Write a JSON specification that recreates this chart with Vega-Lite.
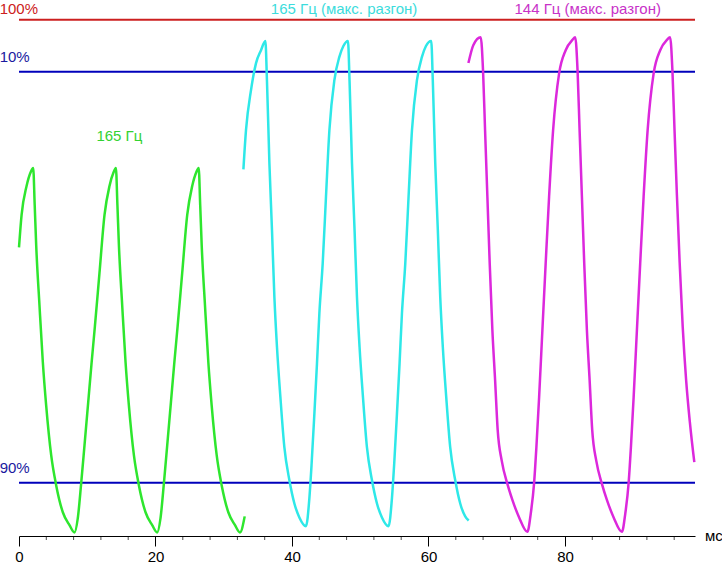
{
  "$schema": "https://vega.github.io/schema/vega-lite/v6.json",
  "width": 676,
  "height": 536,
  "autosize": {"type": "none"},
  "padding": {"left": 19, "top": 0, "right": 27, "bottom": 27},
  "background": "white",
  "config": {"view": {"stroke": null}, "font": "Liberation Sans"},
  "datasets": {
    "levels": [
      {"name": "100%", "v": 100},
      {"name": "10%", "v": 89.9},
      {"name": "90%", "v": 10.3}
    ],
    "minor": [
      {"t": 4}, {"t": 8}, {"t": 12}, {"t": 16}, {"t": 24}, {"t": 28}, {"t": 32}, {"t": 36},
      {"t": 44}, {"t": 48}, {"t": 52}, {"t": 56}, {"t": 64}, {"t": 68}, {"t": 72}, {"t": 76},
      {"t": 84}, {"t": 88}, {"t": 92}, {"t": 96}
    ],
    "toplabels": [
      {"name": "165 Гц (макс. разгон)", "t": 36.9, "v": 103.45},
      {"name": "144 Гц (макс. разгон)", "t": 72.6, "v": 103.45},
      {"name": "100%", "t": -2.83, "v": 103.45}
    ],
    "labels": [
      {"name": "165 Гц", "t": 11.34, "v": 77.5},
      {"name": "10%", "t": -2.83, "v": 92.8},
      {"name": "90%", "t": -2.83, "v": 13.2},
      {"name": "мс", "t": 100.5, "v": 0}
    ],
    "traces": [
      {"s": "165 Гц", "t": 0, "v": 55.9}, {"s": "165 Гц", "t": 0.38, "v": 62.2}, {"s": "165 Гц", "t": 1.11, "v": 67.8}, {"s": "165 Гц", "t": 1.72, "v": 70.5}, {"s": "165 Гц", "t": 2.08, "v": 71.3},
      {"s": "165 Гц", "t": 2.30, "v": 64.1}, {"s": "165 Гц", "t": 2.52, "v": 56.3}, {"s": "165 Гц", "t": 3.00, "v": 44.7}, {"s": "165 Гц", "t": 3.49, "v": 33.7}, {"s": "165 Гц", "t": 3.98, "v": 25.3}, {"s": "165 Гц", "t": 4.72, "v": 15.6}, {"s": "165 Гц", "t": 5.45, "v": 9.8}, {"s": "165 Гц", "t": 6.42, "v": 4.6}, {"s": "165 Гц", "t": 7.40, "v": 2.1}, {"s": "165 Гц", "t": 8.13, "v": 0.7},
      {"s": "165 Гц", "t": 8.61, "v": 3.4}, {"s": "165 Гц", "t": 9.11, "v": 10.2}, {"s": "165 Гц", "t": 9.60, "v": 17.6}, {"s": "165 Гц", "t": 10.14, "v": 25.9}, {"s": "165 Гц", "t": 10.62, "v": 33.3}, {"s": "165 Гц", "t": 11.12, "v": 40.6}, {"s": "165 Гц", "t": 11.79, "v": 50.9}, {"s": "165 Гц", "t": 12.53, "v": 62.2}, {"s": "165 Гц", "t": 13.26, "v": 67.8}, {"s": "165 Гц", "t": 13.87, "v": 70.5}, {"s": "165 Гц", "t": 14.2, "v": 71.3},
      {"s": "165 Гц", "t": 14.42, "v": 64.1}, {"s": "165 Гц", "t": 14.64, "v": 56.3}, {"s": "165 Гц", "t": 15.12, "v": 44.7}, {"s": "165 Гц", "t": 15.61, "v": 33.7}, {"s": "165 Гц", "t": 16.10, "v": 25.3}, {"s": "165 Гц", "t": 16.84, "v": 15.6}, {"s": "165 Гц", "t": 17.57, "v": 9.8}, {"s": "165 Гц", "t": 18.54, "v": 4.6}, {"s": "165 Гц", "t": 19.52, "v": 2.1}, {"s": "165 Гц", "t": 20.25, "v": 0.7},
      {"s": "165 Гц", "t": 20.73, "v": 3.4}, {"s": "165 Гц", "t": 21.23, "v": 10.2}, {"s": "165 Гц", "t": 21.72, "v": 17.6}, {"s": "165 Гц", "t": 22.26, "v": 25.9}, {"s": "165 Гц", "t": 22.74, "v": 33.3}, {"s": "165 Гц", "t": 23.24, "v": 40.6}, {"s": "165 Гц", "t": 23.91, "v": 50.9}, {"s": "165 Гц", "t": 24.65, "v": 62.2}, {"s": "165 Гц", "t": 25.38, "v": 67.8}, {"s": "165 Гц", "t": 25.99, "v": 70.5}, {"s": "165 Гц", "t": 26.33, "v": 71.3},
      {"s": "165 Гц", "t": 26.55, "v": 64.1}, {"s": "165 Гц", "t": 26.77, "v": 56.3}, {"s": "165 Гц", "t": 27.25, "v": 44.7}, {"s": "165 Гц", "t": 27.74, "v": 33.7}, {"s": "165 Гц", "t": 28.23, "v": 25.3}, {"s": "165 Гц", "t": 28.97, "v": 15.6}, {"s": "165 Гц", "t": 29.70, "v": 9.8}, {"s": "165 Гц", "t": 30.67, "v": 4.6}, {"s": "165 Гц", "t": 31.65, "v": 2.1}, {"s": "165 Гц", "t": 32.38, "v": 0.7}, {"s": "165 Гц", "t": 33.07, "v": 3.8},

      {"s": "165 Гц (макс. разгон)", "t": 32.88, "v": 71.0}, {"s": "165 Гц (макс. разгон)", "t": 33.26, "v": 78.6}, {"s": "165 Гц (макс. разгон)", "t": 34.0, "v": 86.4}, {"s": "165 Гц (макс. разгон)", "t": 34.73, "v": 91.6}, {"s": "165 Гц (макс. разгон)", "t": 35.46, "v": 94.1}, {"s": "165 Гц (макс. разгон)", "t": 36.10, "v": 95.9},
      {"s": "165 Гц (макс. разгон)", "t": 36.33, "v": 88.3}, {"s": "165 Гц (макс. разгон)", "t": 36.69, "v": 72.2}, {"s": "165 Гц (макс. разгон)", "t": 37.07, "v": 59.2}, {"s": "165 Гц (макс. разгон)", "t": 37.42, "v": 46.3}, {"s": "165 Гц (макс. разгон)", "t": 37.80, "v": 36.6}, {"s": "165 Гц (макс. разгон)", "t": 38.30, "v": 26.9}, {"s": "165 Гц (макс. разгон)", "t": 38.88, "v": 17.2}, {"s": "165 Гц (макс. разгон)", "t": 39.62, "v": 10.8}, {"s": "165 Гц (макс. разгон)", "t": 40.35, "v": 6.3}, {"s": "165 Гц (макс. разгон)", "t": 41.08, "v": 3.6}, {"s": "165 Гц (макс. разгон)", "t": 42.05, "v": 1.9},
      {"s": "165 Гц (макс. разгон)", "t": 42.55, "v": 7.4}, {"s": "165 Гц (макс. разгон)", "t": 42.88, "v": 14.1}, {"s": "165 Гц (макс. разгон)", "t": 43.28, "v": 23.7}, {"s": "165 Гц (макс. разгон)", "t": 43.66, "v": 33.4}, {"s": "165 Гц (макс. разгон)", "t": 44.01, "v": 43.1}, {"s": "165 Гц (макс. разгон)", "t": 44.50, "v": 52.8}, {"s": "165 Гц (макс. разгон)", "t": 44.98, "v": 65.7}, {"s": "165 Гц (макс. разгон)", "t": 45.48, "v": 78.6}, {"s": "165 Гц (макс. разгон)", "t": 46.21, "v": 88.3}, {"s": "165 Гц (макс. разгон)", "t": 46.94, "v": 92.8}, {"s": "165 Гц (макс. разгон)", "t": 47.53, "v": 94.9}, {"s": "165 Гц (макс. разгон)", "t": 48.20, "v": 95.9},
      {"s": "165 Гц (макс. разгон)", "t": 48.43, "v": 88.3}, {"s": "165 Гц (макс. разгон)", "t": 48.79, "v": 72.2}, {"s": "165 Гц (макс. разгон)", "t": 49.17, "v": 59.2}, {"s": "165 Гц (макс. разгон)", "t": 49.52, "v": 46.3}, {"s": "165 Гц (макс. разгон)", "t": 49.90, "v": 36.6}, {"s": "165 Гц (макс. разгон)", "t": 50.40, "v": 26.9}, {"s": "165 Гц (макс. разгон)", "t": 50.98, "v": 17.2}, {"s": "165 Гц (макс. разгон)", "t": 51.72, "v": 10.8}, {"s": "165 Гц (макс. разгон)", "t": 52.45, "v": 6.3}, {"s": "165 Гц (макс. разгон)", "t": 53.18, "v": 3.6}, {"s": "165 Гц (макс. разгон)", "t": 54.15, "v": 1.9},
      {"s": "165 Гц (макс. разгон)", "t": 54.65, "v": 7.4}, {"s": "165 Гц (макс. разгон)", "t": 54.98, "v": 14.1}, {"s": "165 Гц (макс. разгон)", "t": 55.38, "v": 23.7}, {"s": "165 Гц (макс. разгон)", "t": 55.76, "v": 33.4}, {"s": "165 Гц (макс. разгон)", "t": 56.11, "v": 43.1}, {"s": "165 Гц (макс. разгон)", "t": 56.60, "v": 52.8}, {"s": "165 Гц (макс. разгон)", "t": 57.08, "v": 65.7}, {"s": "165 Гц (макс. разгон)", "t": 57.58, "v": 78.6}, {"s": "165 Гц (макс. разгон)", "t": 58.31, "v": 88.3}, {"s": "165 Гц (макс. разгон)", "t": 59.04, "v": 92.8}, {"s": "165 Гц (макс. разгон)", "t": 59.63, "v": 94.9}, {"s": "165 Гц (макс. разгон)", "t": 60.40, "v": 95.9},
      {"s": "165 Гц (макс. разгон)", "t": 60.63, "v": 88.3}, {"s": "165 Гц (макс. разгон)", "t": 60.99, "v": 72.2}, {"s": "165 Гц (макс. разгон)", "t": 61.37, "v": 59.2}, {"s": "165 Гц (макс. разгон)", "t": 61.72, "v": 46.3}, {"s": "165 Гц (макс. разгон)", "t": 62.10, "v": 36.6}, {"s": "165 Гц (макс. разгон)", "t": 62.60, "v": 26.9}, {"s": "165 Гц (макс. разгон)", "t": 63.18, "v": 17.2}, {"s": "165 Гц (макс. разгон)", "t": 63.92, "v": 10.8}, {"s": "165 Гц (макс. разгон)", "t": 64.65, "v": 6.3}, {"s": "165 Гц (макс. разгон)", "t": 65.38, "v": 3.8}, {"s": "165 Гц (макс. разгон)", "t": 65.89, "v": 3.0},

      {"s": "144 Гц (макс. разгон)", "t": 65.85, "v": 91.6}, {"s": "144 Гц (макс. разгон)", "t": 66.58, "v": 95.1}, {"s": "144 Гц (макс. разгон)", "t": 67.65, "v": 96.6},
      {"s": "144 Гц (макс. разгон)", "t": 68.00, "v": 89.9}, {"s": "144 Гц (макс. разгон)", "t": 68.29, "v": 78.6}, {"s": "144 Гц (макс. разгон)", "t": 68.63, "v": 65.7}, {"s": "144 Гц (макс. разгон)", "t": 68.97, "v": 52.8}, {"s": "144 Гц (макс. разгон)", "t": 69.36, "v": 39.9}, {"s": "144 Гц (макс. разгон)", "t": 69.76, "v": 30.2}, {"s": "144 Гц (макс. разгон)", "t": 70.14, "v": 20.5}, {"s": "144 Гц (макс. разгон)", "t": 70.73, "v": 14.6}, {"s": "144 Гц (макс. разгон)", "t": 71.56, "v": 10.1}, {"s": "144 Гц (макс. разгон)", "t": 72.29, "v": 7.0}, {"s": "144 Гц (макс. разгон)", "t": 73.28, "v": 3.6}, {"s": "144 Гц (макс. разгон)", "t": 74.49, "v": 0.8},
      {"s": "144 Гц (макс. разгон)", "t": 74.98, "v": 4.3}, {"s": "144 Гц (макс. разгон)", "t": 75.47, "v": 10.2}, {"s": "144 Гц (макс. разгон)", "t": 75.81, "v": 17.2}, {"s": "144 Гц (макс. разгон)", "t": 76.21, "v": 26.9}, {"s": "144 Гц (макс. разгон)", "t": 76.69, "v": 39.9}, {"s": "144 Гц (макс. разгон)", "t": 77.17, "v": 52.8}, {"s": "144 Гц (макс. разгон)", "t": 77.67, "v": 65.7}, {"s": "144 Гц (макс. разгон)", "t": 78.26, "v": 78.6}, {"s": "144 Гц (макс. разгон)", "t": 79.14, "v": 89.6}, {"s": "144 Гц (макс. разгон)", "t": 80.10, "v": 94.1}, {"s": "144 Гц (макс. разгон)", "t": 81.09, "v": 96.1}, {"s": "144 Гц (макс. разгон)", "t": 81.50, "v": 96.6},
      {"s": "144 Гц (макс. разгон)", "t": 81.85, "v": 89.9}, {"s": "144 Гц (макс. разгон)", "t": 82.14, "v": 78.6}, {"s": "144 Гц (макс. разгон)", "t": 82.48, "v": 65.7}, {"s": "144 Гц (макс. разгон)", "t": 82.82, "v": 52.8}, {"s": "144 Гц (макс. разгон)", "t": 83.21, "v": 39.9}, {"s": "144 Гц (макс. разгон)", "t": 83.61, "v": 30.2}, {"s": "144 Гц (макс. разгон)", "t": 83.99, "v": 20.5}, {"s": "144 Гц (макс. разгон)", "t": 84.58, "v": 14.6}, {"s": "144 Гц (макс. разгон)", "t": 85.41, "v": 10.1}, {"s": "144 Гц (макс. разгон)", "t": 86.14, "v": 7.0}, {"s": "144 Гц (макс. разгон)", "t": 87.13, "v": 3.6}, {"s": "144 Гц (макс. разгон)", "t": 88.34, "v": 0.8},
      {"s": "144 Гц (макс. разгон)", "t": 88.83, "v": 4.3}, {"s": "144 Гц (макс. разгон)", "t": 89.32, "v": 10.2}, {"s": "144 Гц (макс. разгон)", "t": 89.66, "v": 17.2}, {"s": "144 Гц (макс. разгон)", "t": 90.06, "v": 26.9}, {"s": "144 Гц (макс. разгон)", "t": 90.54, "v": 39.9}, {"s": "144 Гц (макс. разгон)", "t": 91.02, "v": 52.8}, {"s": "144 Гц (макс. разгон)", "t": 91.52, "v": 65.7}, {"s": "144 Гц (макс. разгон)", "t": 92.11, "v": 78.6}, {"s": "144 Гц (макс. разгон)", "t": 92.99, "v": 89.6}, {"s": "144 Гц (макс. разгон)", "t": 93.95, "v": 94.1}, {"s": "144 Гц (макс. разгон)", "t": 94.94, "v": 96.1}, {"s": "144 Гц (макс. разгон)", "t": 95.40, "v": 96.6},
      {"s": "144 Гц (макс. разгон)", "t": 95.75, "v": 89.9}, {"s": "144 Гц (макс. разгон)", "t": 96.04, "v": 79.0}, {"s": "144 Гц (макс. разгон)", "t": 96.40, "v": 66.0}, {"s": "144 Гц (макс. разгон)", "t": 96.80, "v": 53.0}, {"s": "144 Гц (макс. разгон)", "t": 97.25, "v": 40.5}, {"s": "144 Гц (макс. разгон)", "t": 97.75, "v": 30.2}, {"s": "144 Гц (макс. разгон)", "t": 98.30, "v": 22.0}, {"s": "144 Гц (макс. разгон)", "t": 98.95, "v": 14.3}
    ]
  },
  "resolve": {"scale": {"color": "independent"}},
  "layer": [
    {
      "data": {"name": "levels"},
      "mark": {"type": "rule", "strokeWidth": 2},
      "encoding": {
        "x": {
          "datum": 0, "type": "quantitative",
          "scale": {"domain": [0, 99.05], "nice": false, "zero": false},
          "axis": {
            "values": [0, 20, 40, 60, 80],
            "tickSize": 10,
            "labelFlush": false, "labelOverlap": false, "labelBound": false,
            "labelFontSize": 15, "labelFont": "Liberation Sans", "labelColor": "#000000",
            "labelPadding": 3,
            "domainColor": "#000000", "tickColor": "#000000", "domainWidth": 1, "tickWidth": 1,
            "grid": false, "title": null
          }
        },
        "x2": {"datum": 99.05},
        "y": {"field": "v", "type": "quantitative", "scale": {"domain": [0, 103.82], "nice": false, "zero": false}, "axis": null},
        "color": {
          "field": "name", "type": "nominal",
          "scale": {"domain": ["100%", "10%", "90%"], "range": ["#cc2020", "#0000bb", "#0000bb"]},
          "legend": null
        }
      }
    },
    {
      "data": {"name": "minor"},
      "mark": {"type": "tick", "orient": "vertical", "size": 4, "thickness": 1, "yOffset": 2, "color": "#000000"},
      "encoding": {
        "x": {"field": "t", "type": "quantitative", "title": null},
        "y": {"datum": 0, "type": "quantitative", "scale": {"domain": [0, 103.82], "nice": false, "zero": false}, "axis": null}
      }
    },
    {
      "data": {"name": "traces"},
      "mark": {"type": "line", "strokeWidth": 2.5, "interpolate": "monotone", "clip": false},
      "encoding": {
        "x": {"field": "t", "type": "quantitative", "title": null},
        "y": {"field": "v", "type": "quantitative", "scale": {"domain": [0, 103.82], "nice": false, "zero": false}, "axis": null},
        "color": {
          "field": "s", "type": "nominal",
          "scale": {"domain": ["165 Гц", "165 Гц (макс. разгон)", "144 Гц (макс. разгон)"], "range": ["#2ee62e", "#2ee8e8", "#dc28dc"]},
          "legend": null
        }
      }
    },
    {
      "data": {"name": "toplabels"},
      "mark": {"type": "text", "align": "left", "baseline": "top", "fontSize": 15, "font": "Liberation Sans"},
      "encoding": {
        "x": {"field": "t", "type": "quantitative", "title": null},
        "y": {"field": "v", "type": "quantitative", "scale": {"domain": [0, 103.82], "nice": false, "zero": false}, "axis": null},
        "text": {"field": "name"},
        "color": {
          "field": "name", "type": "nominal",
          "scale": {
            "domain": ["165 Гц (макс. разгон)", "144 Гц (макс. разгон)", "100%"],
            "range": ["#3cdcdc", "#c832c8", "#cc2020"]
          },
          "legend": null
        }
      }
    },
    {
      "data": {"name": "labels"},
      "mark": {"type": "text", "align": "left", "baseline": "middle", "fontSize": 15, "font": "Liberation Sans"},
      "encoding": {
        "x": {"field": "t", "type": "quantitative", "title": null},
        "y": {"field": "v", "type": "quantitative", "scale": {"domain": [0, 103.82], "nice": false, "zero": false}, "axis": null},
        "text": {"field": "name"},
        "color": {
          "field": "name", "type": "nominal",
          "scale": {
            "domain": ["165 Гц", "10%", "90%", "мс"],
            "range": ["#32d232", "#1a1aa0", "#1a1aa0", "#000000"]
          },
          "legend": null
        }
      }
    }
  ]
}
